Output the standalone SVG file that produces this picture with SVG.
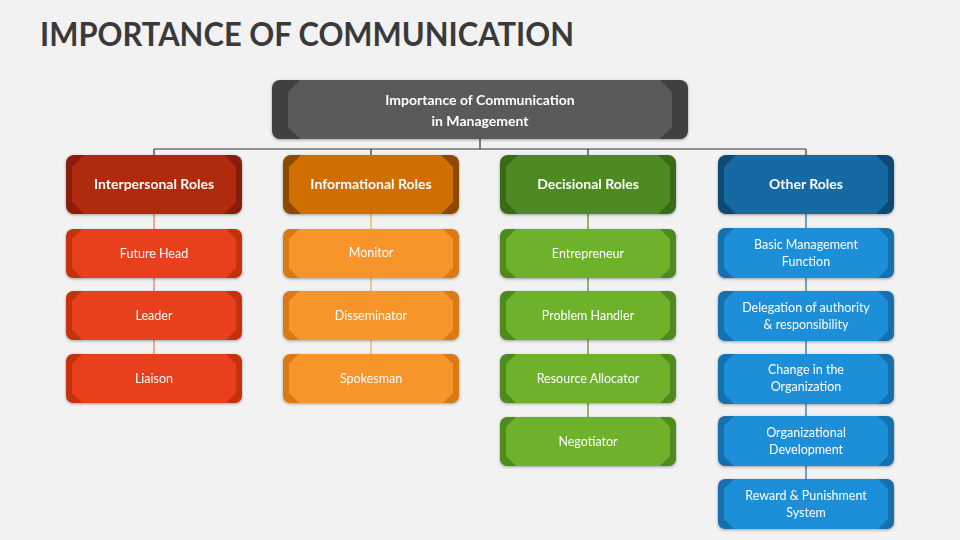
<svg xmlns="http://www.w3.org/2000/svg" width="960" height="540" viewBox="0 0 960 540">
<defs>
<filter id="sh" x="-10%" y="-10%" width="120%" height="130%"><feDropShadow dx="0" dy="1" stdDeviation="1.5" flood-color="#000" flood-opacity="0.35"/></filter>
<style>
text{font-family:Lato,"Open Sans","Liberation Sans",sans-serif;fill:#fff;text-anchor:middle}
.h{font-size:14px;font-weight:bold}
.c{font-size:12.5px}
.ln{stroke-width:1.2;fill:none}
</style>
</defs>
<rect width="960" height="540" fill="#f2f2f2"/>
<text x="40" y="46" style="font-size:32px;font-weight:bold;fill:#3a3a3a;text-anchor:start" textLength="534" lengthAdjust="spacingAndGlyphs">IMPORTANCE OF COMMUNICATION</text>
<g id="connectors">
<path class="ln" stroke="#333" d="M480 139V149M154 149H806M154 149V155M371 149V155M588 149V155M806 149V155"/>
<path class="ln" stroke="#E8794F" d="M154 214V403"/>
<path class="ln" stroke="#E8A860" d="M371 214V403"/>
<path class="ln" stroke="#4E8A22" d="M588 214V466"/>
<path class="ln" stroke="#146BA4" d="M806 214V528"/>
</g>
<g id="top" filter="url(#sh)"><rect x="272" y="80" width="416" height="59" rx="8" fill="#404040"/><polygon points="300,80 660,80 672,92 672,127 660,139 300,139 288,127 288,92" fill="#5a5a5a"/><text class="h" x="480" y="105">Importance of Communication</text><text class="h" x="480" y="126">in Management</text></g>
<g id="h1" filter="url(#sh)"><rect x="66" y="155" width="176" height="59" rx="8" fill="#8A1E0A"/><polygon points="84,155 224,155 236,167 236,202 224,214 84,214 72,202 72,167" fill="#B0290F"/><text class="h" x="154" y="189">Interpersonal Roles</text></g>
<g id="h2" filter="url(#sh)"><rect x="283" y="155" width="176" height="59" rx="8" fill="#8C4A04"/><polygon points="301,155 441,155 453,167 453,202 441,214 301,214 289,202 289,167" fill="#D06E06"/><text class="h" x="371" y="189">Informational Roles</text></g>
<g id="h3" filter="url(#sh)"><rect x="500" y="155" width="176" height="59" rx="8" fill="#3A6B18"/><polygon points="518,155 658,155 670,167 670,202 658,214 518,214 506,202 506,167" fill="#4E8A22"/><text class="h" x="588" y="189">Decisional Roles</text></g>
<g id="h4" filter="url(#sh)"><rect x="718" y="155" width="176" height="59" rx="8" fill="#0E4A72"/><polygon points="736,155 876,155 888,167 888,202 876,214 736,214 724,202 724,167" fill="#146BA4"/><text class="h" x="806" y="189">Other Roles</text></g>

<g id="r1" filter="url(#sh)"><rect x="66" y="229" width="176" height="49" rx="7" fill="#C4330F"/><polygon points="82,229 226,229 236,239 236,268 226,278 82,278 72,268 72,239" fill="#E8401C"/><text class="c" x="154" y="258">Future Head</text></g>
<g id="r2" filter="url(#sh)"><rect x="66" y="291" width="176" height="49" rx="7" fill="#C4330F"/><polygon points="82,291 226,291 236,301 236,330 226,340 82,340 72,330 72,301" fill="#E8401C"/><text class="c" x="154" y="320">Leader</text></g>
<g id="r3" filter="url(#sh)"><rect x="66" y="354" width="176" height="49" rx="7" fill="#C4330F"/><polygon points="82,354 226,354 236,364 236,393 226,403 82,403 72,393 72,364" fill="#E8401C"/><text class="c" x="154" y="383">Liaison</text></g>

<g id="o1" filter="url(#sh)"><rect x="283" y="229" width="176" height="49" rx="7" fill="#D97A12"/><polygon points="299,229 443,229 453,239 453,268 443,278 299,278 289,268 289,239" fill="#F7952A"/><text class="c" x="371" y="257">Monitor</text></g>
<g id="o2" filter="url(#sh)"><rect x="283" y="291" width="176" height="49" rx="7" fill="#D97A12"/><polygon points="299,291 443,291 453,301 453,330 443,340 299,340 289,330 289,301" fill="#F7952A"/><text class="c" x="371" y="320">Disseminator</text></g>
<g id="o3" filter="url(#sh)"><rect x="283" y="354" width="176" height="49" rx="7" fill="#D97A12"/><polygon points="299,354 443,354 453,364 453,393 443,403 299,403 289,393 289,364" fill="#F7952A"/><text class="c" x="371" y="383">Spokesman</text></g>

<g id="g1" filter="url(#sh)"><rect x="500" y="229" width="176" height="49" rx="7" fill="#4F8A1C"/><polygon points="516,229 660,229 670,239 670,268 660,278 516,278 506,268 506,239" fill="#6DB22C"/><text class="c" x="588" y="258">Entrepreneur</text></g>
<g id="g2" filter="url(#sh)"><rect x="500" y="291" width="176" height="49" rx="7" fill="#4F8A1C"/><polygon points="516,291 660,291 670,301 670,330 660,340 516,340 506,330 506,301" fill="#6DB22C"/><text class="c" x="588" y="320">Problem Handler</text></g>
<g id="g3" filter="url(#sh)"><rect x="500" y="354" width="176" height="49" rx="7" fill="#4F8A1C"/><polygon points="516,354 660,354 670,364 670,393 660,403 516,403 506,393 506,364" fill="#6DB22C"/><text class="c" x="588" y="383">Resource Allocator</text></g>
<g id="g4" filter="url(#sh)"><rect x="500" y="417" width="176" height="49" rx="7" fill="#4F8A1C"/><polygon points="516,417 660,417 670,427 670,456 660,466 516,466 506,456 506,427" fill="#6DB22C"/><text class="c" x="588" y="446">Negotiator</text></g>

<g id="b1" filter="url(#sh)"><rect x="718" y="228" width="176" height="50" rx="7" fill="#1570AE"/><polygon points="734,228 878,228 888,238 888,268 878,278 734,278 724,268 724,238" fill="#1E8FD8"/><text class="c" x="806" y="249">Basic Management</text><text class="c" x="806" y="266">Function</text></g>
<g id="b2" filter="url(#sh)"><rect x="718" y="291" width="176" height="50" rx="7" fill="#1570AE"/><polygon points="734,291 878,291 888,301 888,331 878,341 734,341 724,331 724,301" fill="#1E8FD8"/><text class="c" x="806" y="312">Delegation of authority</text><text class="c" x="806" y="329">&amp; responsibility</text></g>
<g id="b3" filter="url(#sh)"><rect x="718" y="354" width="176" height="50" rx="7" fill="#1570AE"/><polygon points="734,354 878,354 888,364 888,394 878,404 734,404 724,394 724,364" fill="#1E8FD8"/><text class="c" x="806" y="374">Change in the</text><text class="c" x="806" y="391">Organization</text></g>
<g id="b4" filter="url(#sh)"><rect x="718" y="416" width="176" height="50" rx="7" fill="#1570AE"/><polygon points="734,416 878,416 888,426 888,456 878,466 734,466 724,456 724,426" fill="#1E8FD8"/><text class="c" x="806" y="437">Organizational</text><text class="c" x="806" y="454">Development</text></g>
<g id="b5" filter="url(#sh)"><rect x="718" y="479" width="176" height="50" rx="7" fill="#1570AE"/><polygon points="734,479 878,479 888,489 888,519 878,529 734,529 724,519 724,489" fill="#1E8FD8"/><text class="c" x="806" y="500">Reward &amp; Punishment</text><text class="c" x="806" y="517">System</text></g>
</svg>
